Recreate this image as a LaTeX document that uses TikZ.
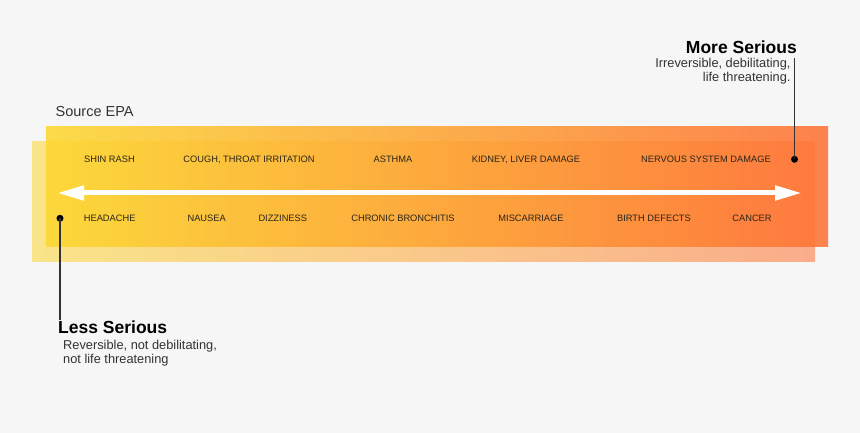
\documentclass[tikz,border=0pt]{standalone}
\usepackage{fontspec}
\setmainfont{Liberation Sans}
\usetikzlibrary{arrows.meta}
\definecolor{bgGray}{HTML}{F6F6F6}
\definecolor{epaYellow}{RGB}{253,215,48}
\definecolor{epaOrange}{RGB}{255,113,52}
\definecolor{inkDark}{HTML}{2A2418}
\definecolor{noteGray}{HTML}{333333}

\begin{document}
\begin{tikzpicture}[x=1pt, y=-1pt, font=\fontsize{9.3}{11}\selectfont,
Effect/.style={text=inkDark, inner sep=0pt, anchor=base},
CallDot/.style={circle, fill=black, inner sep=0pt, minimum size=7pt},
CallHead/.style={font=\bfseries\fontsize{17.5}{20}\selectfont, inner sep=0pt},
CallNote/.style={font=\fontsize{12.8}{14.4}\selectfont, text=noteGray, inner sep=0pt}]
\fill [bgGray] (0,0) rectangle (860,433);
\useasboundingbox (0,0) rectangle (860,433);
\def\rowTop{162.5}
\def\rowLow{221.5}
% two shifted bands
\shade [left color=epaYellow, right color=epaOrange, fill opacity=0.55] (32,142) rectangle (815,261);
\shade [left color=epaYellow, right color=epaOrange, fill opacity=0.87] (46,127) rectangle (828,246);
\node [font=\fontsize{14.5}{16}\selectfont, text=noteGray, inner sep=0pt, anchor=base west] (source) at (55.5,117) {Source EPA};
% scale arrow
\coordinate (arrL) at (57,193);
\coordinate (arrR) at (802,193);
\draw [white, line width=5pt, {Triangle[length=27pt, width=14pt]}-{Triangle[length=27pt, width=14pt]}] (arrL) -- (arrR);
\foreach \effect/\pos [count=\i] in {SHIN RASH/109.5, {COUGH, THROAT IRRITATION/249}, ASTHMA/393, {KIDNEY, LIVER DAMAGE/526}, NERVOUS SYSTEM DAMAGE/706} {
  \node [Effect] (top\i) at (\pos, \rowTop) {\effect};
}
\foreach \effect/\pos [count=\i] in {HEADACHE/109.7, NAUSEA/206.7, DIZZINESS/282.8, CHRONIC BRONCHITIS/403, MISCARRIAGE/531, BIRTH DEFECTS/654, CANCER/752} {
  \node [Effect] (low\i) at (\pos, \rowLow) {\effect};
}
% callouts (base of a two-line note is its last line)
\node [CallDot] (dotLess) at (60,218.3) {};
\node [CallHead, anchor=base west] (lessHead) at (58,333) {Less Serious};
\node [CallNote, anchor=base west, align=left] (lessNote) at (63,363.5) {Reversible, not debilitating,\\not life threatening};
\draw [line width=1.5pt, noteGray] (dotLess.center) -- (dotLess |- lessHead.north);
\node [CallDot] (dotMore) at (794.5,159.3) {};
\node [CallHead, anchor=base east] (moreHead) at (797,54) {More Serious};
\node [CallNote, anchor=base east, align=right] (moreNote) at (790.7,81.5) {Irreversible, debilitating,\\life threatening.};
\draw [line width=1.5pt, noteGray, shorten >=3.5pt] (dotMore.center) -- (dotMore |- moreHead.south);
\end{tikzpicture}
\end{document}
